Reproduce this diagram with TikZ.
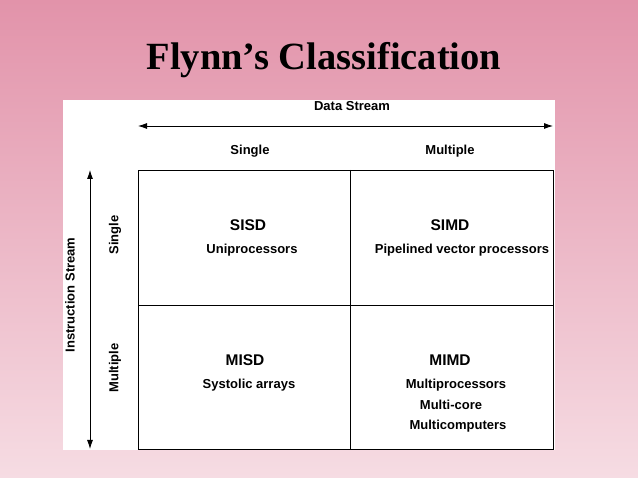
\documentclass[tikz,border=0pt]{standalone}
\usepackage{fontspec}
\setmainfont{Liberation Sans}
\newfontfamily\titlefont{Liberation Serif}
\usetikzlibrary{arrows.meta}
\definecolor{bgtop}{HTML}{E293AA}
\definecolor{bgbot}{HTML}{F6DCE3}
\begin{document}
\begin{tikzpicture}[x=1pt,y=-1pt,
  lbl/.style={font=\bfseries\fontsize{13}{15}\selectfont, inner sep=0pt},
  hd/.style={font=\bfseries\fontsize{15.5}{17}\selectfont, inner sep=0pt},
  arr/.style={{Latex[length=9pt,width=6pt]}-{Latex[length=9pt,width=6pt]}, line width=0.8pt}]
\shade[top color=bgtop,bottom color=bgbot] (0,0) rectangle (638,478);
\useasboundingbox (0,0) rectangle (638,478);
\node[font=\titlefont\bfseries\fontsize{38.5}{42}\selectfont] (title) at (324,60) {Flynn’s Classification};
\fill[white] (63,100) rectangle (555,450);
\node[lbl] (ds) at (352,106) {Data Stream};
\coordinate (dl) at (138,126); \coordinate (dr) at (553,126);
\draw[arr] (dl) -- (dr);
\node[lbl] (s1) at (250,151) {Single};
\node[lbl] (m1) at (450,151) {Multiple};
\draw[line width=0.7pt] (138,170) rectangle (553,449);
\draw[line width=0.7pt] (350,170) -- (350,449);
\draw[line width=0.7pt] (138,305) -- (553,305);
\coordinate (it) at (90,170); \coordinate (ib) at (90,449);
\draw[arr] (it) -- (ib);
\node[lbl,rotate=90] (is) at (70,295) {Instruction Stream};
\node[lbl,rotate=90] (s2) at (115,235) {Single};
\node[lbl,rotate=90] (m2) at (115,368) {Multiple};
\node[hd] (sisd) at (248,225) {SISD};
\node[lbl] (u) at (252,250) {Uniprocessors};
\node[hd] (simd) at (450,225) {SIMD};
\node[lbl] (p) at (462,250) {Pipelined vector processors};
\node[hd] (misd) at (245,360) {MISD};
\node[lbl] (sa) at (249,385) {Systolic arrays};
\node[hd] (mimd) at (450,360) {MIMD};
\node[lbl] (mp) at (456,385) {Multiprocessors};
\node[lbl] (mc) at (451,405) {Multi-core};
\node[lbl] (mcs) at (458,426) {Multicomputers};
\end{tikzpicture}
\end{document}
